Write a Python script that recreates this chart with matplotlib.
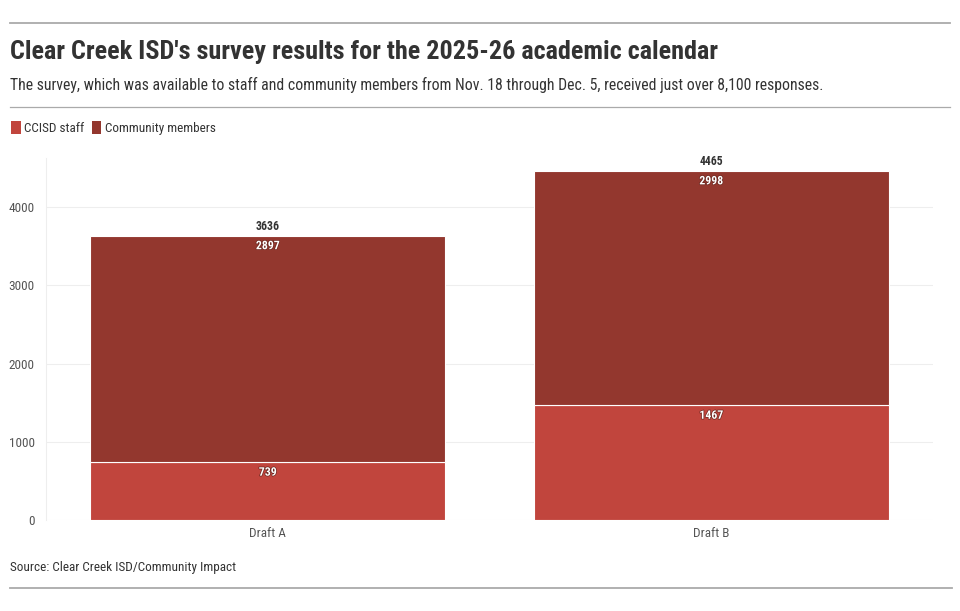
import matplotlib
matplotlib.use("Agg")
from matplotlib import pyplot as plt
from matplotlib.lines import Line2D
from matplotlib.patches import Patch
import matplotlib.patheffects as pe

drafts = ["Draft A", "Draft B"]
staff = [739, 1467]
community = [2897, 2998]
totals = [3636, 4465]
yticks = [0, 1000, 2000, 3000, 4000]

staff_color = "#C1453D"
comm_color = "#93372E"

plt.rcParams["font.family"] = ["Roboto Condensed", "Liberation Sans Narrow", "Roboto", "DejaVu Sans"]

fig = plt.figure(figsize=(9.6, 6.11), dpi=100)
W, H = 960, 611

def fx(px):
    return px / W

def fy(py):
    return 1 - py / H

# rules
for y, x1 in [(23, 950), (107, 950), (588, 952)]:
    fig.add_artist(Line2D([fx(10), fx(x1)], [fy(y), fy(y)], color="#aaaaaa", lw=1.3 if y != 107 else 0.9))

fig.text(fx(10), fy(52), "Clear Creek ISD's survey results for the 2025-26 academic calendar",
         fontsize=18.9, fontweight="bold", color="#333333", va="center")
fig.text(fx(10), fy(85), "The survey, which was available to staff and community members from Nov. 18 through Dec. 5, received just over 8,100 responses.",
         fontsize=11.3, color="#333333", va="center")
fig.text(fx(10), fy(567), "Source: Clear Creek ISD/Community Impact", fontsize=9.5, color="#333333", va="center")

handles = [Patch(facecolor=staff_color, label="CCISD staff"),
           Patch(facecolor=comm_color, label="Community members")]
fig.legend(handles=handles, loc="center left", bbox_to_anchor=(fx(-1), fy(128)), ncol=2, frameon=False,
           fontsize=9.5, handlelength=0.75, handleheight=1.2, handletextpad=0.25, columnspacing=0.55,
           labelcolor="#333333")

ax = fig.add_axes([fx(46), fy(520), fx(933) - fx(46), fy(158) - fy(520)])
x = range(len(drafts))
ax.bar(x, staff, width=0.8, color=staff_color, edgecolor="white", linewidth=0.8, zorder=2)
ax.bar(x, community, bottom=staff, width=0.8, color=comm_color, edgecolor="white", linewidth=0.8, zorder=2)

shadow = [pe.withStroke(linewidth=1.0, foreground="#6a2720")]
for i in x:
    ax.annotate(str(totals[i]), (i, totals[i]), xytext=(0, 2), textcoords="offset points",
                ha="center", va="bottom", fontsize=8.5, fontweight="bold", color="#333333")
    ax.annotate(str(community[i]), (i, totals[i]), xytext=(0, -2.5), textcoords="offset points",
                ha="center", va="top", fontsize=8.5, fontweight="bold", color="white", path_effects=shadow)
    ax.annotate(str(staff[i]), (i, staff[i]), xytext=(0, -2.5), textcoords="offset points",
                ha="center", va="top", fontsize=8.5, fontweight="bold", color="white", path_effects=shadow)

ax.set_xlim(-0.5, 1.5)
ax.set_ylim(0, 4630)
ax.set_yticks(yticks)
ax.set_xticks(list(x))
ax.set_xticklabels(drafts)
ax.grid(axis="y", color="#eeeeee", lw=0.8, zorder=0)
ax.tick_params(axis="both", length=0, labelsize=9.5, labelcolor="#555555", pad=8)
ax.tick_params(axis="x", pad=5)
for s in ["top", "right", "bottom"]:
    ax.spines[s].set_visible(False)
ax.spines["left"].set_color("#eeeeee")

fig.savefig("out.png", dpi=100)
